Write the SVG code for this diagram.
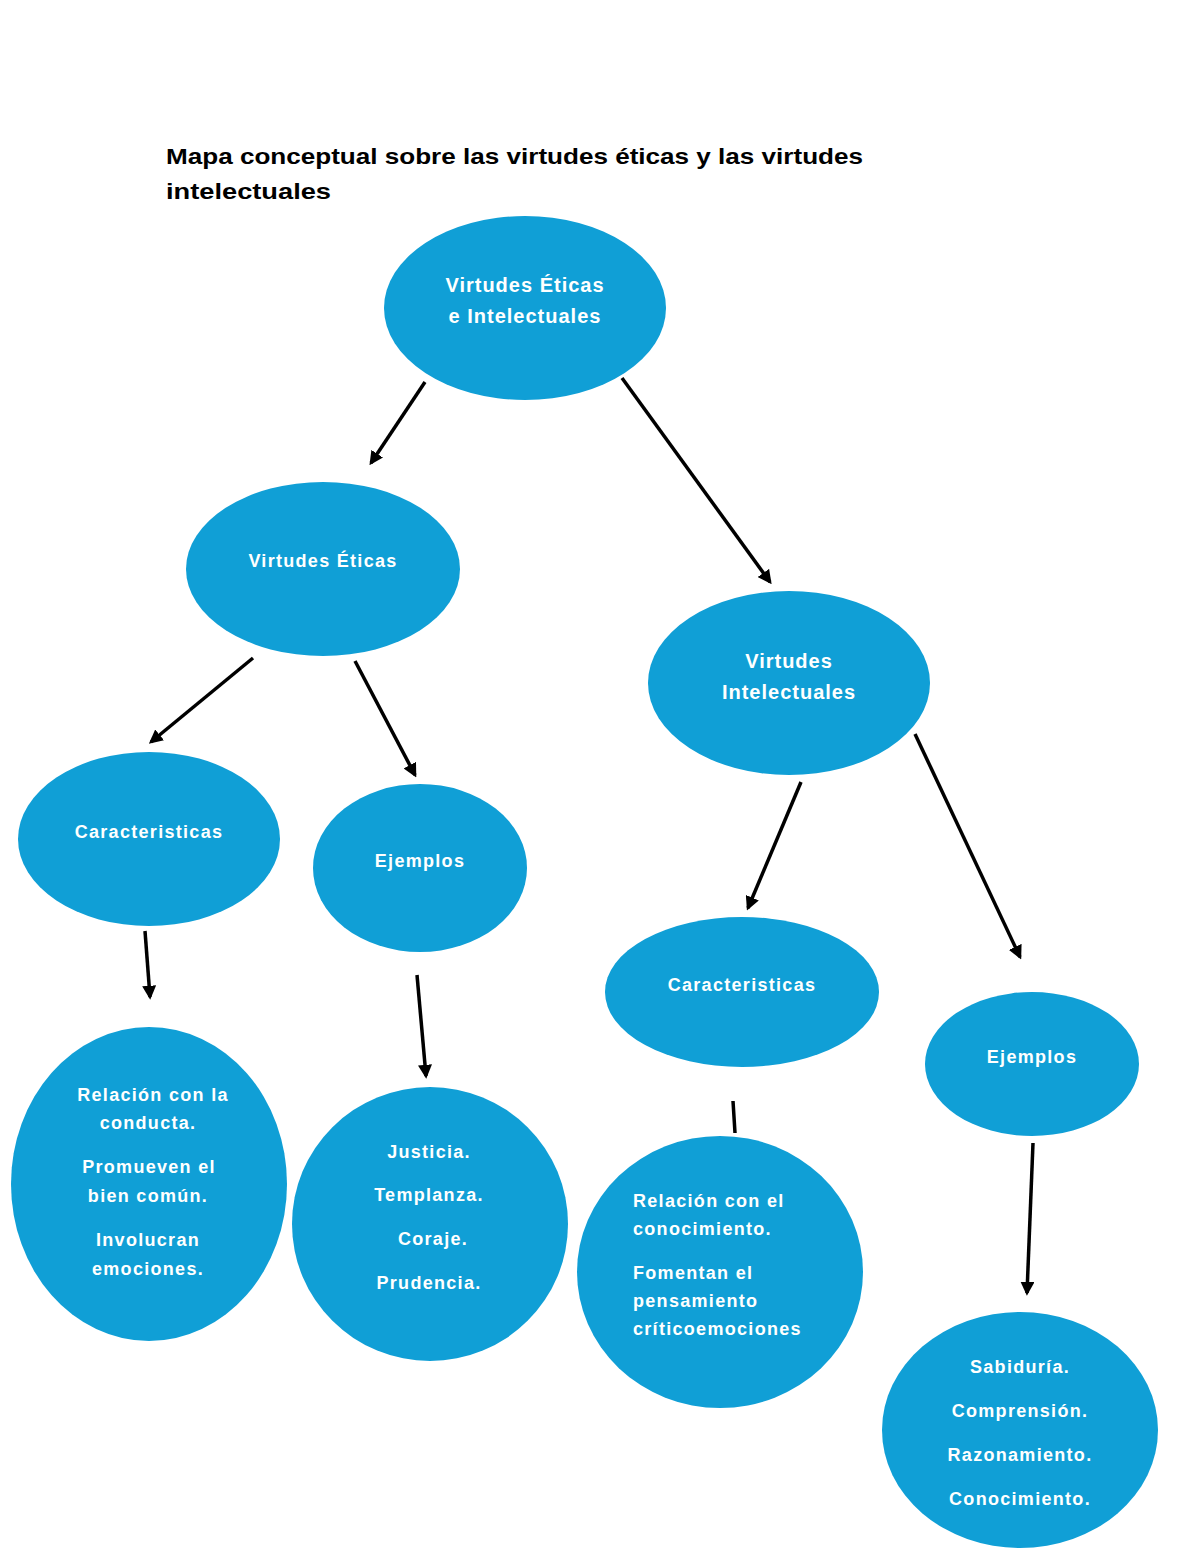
<svg xmlns="http://www.w3.org/2000/svg" width="1200" height="1553" viewBox="0 0 1200 1553">
<defs>
<marker id="ah" viewBox="0 0 10 10" refX="8" refY="5" markerWidth="4" markerHeight="4" orient="auto" markerUnits="strokeWidth">
<path d="M0,0 L10,5 L0,10 z" fill="#000"/>
</marker>
<style>
.n{fill:#109fd6;}
.t{font-family:"Liberation Sans",Arial,sans-serif;font-weight:bold;fill:#fff;font-size:18px;text-anchor:middle;letter-spacing:1.3px;}
.tl{text-anchor:start;}
.big{font-size:20px;letter-spacing:1px;}
.c line{stroke:#000;stroke-width:3.5;}
.a{marker-end:url(#ah);}
.title{font-family:"Liberation Sans",Arial,sans-serif;font-weight:bold;font-size:22px;fill:#000;}
</style>
</defs>
<rect width="1200" height="1553" fill="#fff"/>
<text class="title" x="166" y="164" textLength="697" lengthAdjust="spacingAndGlyphs">Mapa conceptual sobre las virtudes éticas y las virtudes</text>
<text class="title" x="166" y="199" textLength="165" lengthAdjust="spacingAndGlyphs">intelectuales</text>
<g class="c" id="connectors">
<line class="a" x1="425" y1="382" x2="371" y2="463"/>
<line class="a" x1="622" y1="378" x2="770" y2="582"/>
<line class="a" x1="253" y1="658" x2="151" y2="742"/>
<line class="a" x1="355" y1="661" x2="415" y2="775"/>
<line class="a" x1="145" y1="931" x2="150" y2="997"/>
<line class="a" x1="417" y1="975" x2="426" y2="1076"/>
<line class="a" x1="801" y1="782" x2="748" y2="908"/>
<line class="a" x1="915" y1="734" x2="1020" y2="957"/>
<line x1="733" y1="1101" x2="735" y2="1133"/>
<line class="a" x1="1033" y1="1143" x2="1027" y2="1293"/>
</g>
<g id="root"><ellipse class="n" cx="525" cy="308" rx="141" ry="92"/>
<text class="t big" x="525" y="292">Virtudes Éticas</text><text class="t big" x="525" y="323">e Intelectuales</text></g>
<g id="eticas"><ellipse class="n" cx="323" cy="569" rx="137" ry="87"/>
<text class="t" x="323" y="567">Virtudes Éticas</text></g>
<g id="intelectuales"><ellipse class="n" cx="789" cy="683" rx="141" ry="92"/>
<text class="t big" x="789" y="668">Virtudes</text><text class="t big" x="789" y="699">Intelectuales</text></g>
<g id="caract1"><ellipse class="n" cx="149" cy="839" rx="131" ry="87"/>
<text class="t" x="149" y="838">Caracteristicas</text></g>
<g id="ejem1"><ellipse class="n" cx="420" cy="868" rx="107" ry="84"/>
<text class="t" x="420" y="867">Ejemplos</text></g>
<g id="caract2"><ellipse class="n" cx="742" cy="992" rx="137" ry="75"/>
<text class="t" x="742" y="991">Caracteristicas</text></g>
<g id="ejem2"><ellipse class="n" cx="1032" cy="1064" rx="107" ry="72"/>
<text class="t" x="1032" y="1063">Ejemplos</text></g>
<g id="caract1list"><ellipse class="n" cx="149" cy="1184" rx="138" ry="157"/>
<text class="t" x="153" y="1101">Relación con la</text>
<text class="t" x="148" y="1129">conducta.</text>
<text class="t" x="149" y="1173">Promueven el</text>
<text class="t" x="148" y="1202">bien común.</text>
<text class="t" x="148" y="1246">Involucran</text>
<text class="t" x="148" y="1275">emociones.</text></g>
<g id="ejem1list"><ellipse class="n" cx="430" cy="1224" rx="138" ry="137"/>
<text class="t" x="429" y="1158">Justicia.</text>
<text class="t" x="429" y="1201">Templanza.</text>
<text class="t" x="433" y="1245">Coraje.</text>
<text class="t" x="429" y="1289">Prudencia.</text></g>
<g id="caract2list"><ellipse class="n" cx="720" cy="1272" rx="143" ry="136"/>
<text class="t tl" x="633" y="1207">Relación con el</text>
<text class="t tl" x="633" y="1235">conocimiento.</text>
<text class="t tl" x="633" y="1279">Fomentan el</text>
<text class="t tl" x="633" y="1307">pensamiento</text>
<text class="t tl" x="633" y="1335">críticoemociones</text></g>
<g id="ejem2list"><ellipse class="n" cx="1020" cy="1430" rx="138" ry="118"/>
<text class="t" x="1020" y="1373">Sabiduría.</text>
<text class="t" x="1020" y="1417">Comprensión.</text>
<text class="t" x="1020" y="1461">Razonamiento.</text>
<text class="t" x="1020" y="1505">Conocimiento.</text></g>
</svg>
